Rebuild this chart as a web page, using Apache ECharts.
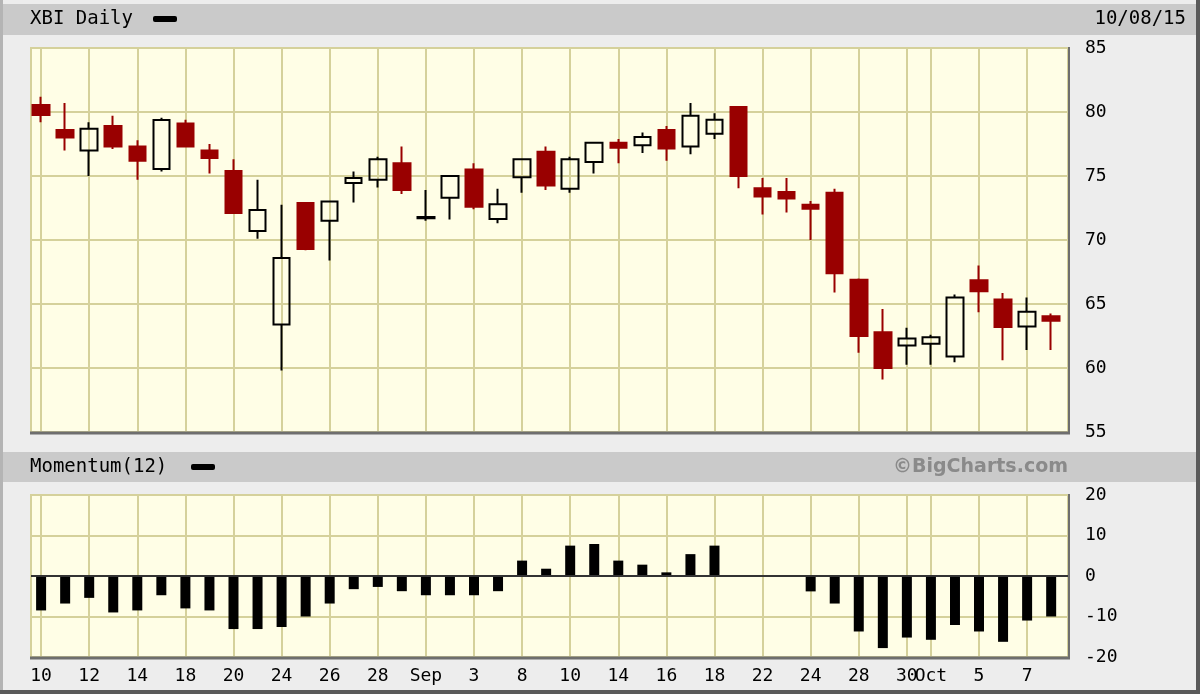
<!DOCTYPE html>
<html>
<head>
<meta charset="utf-8">
<script src="https://cdn.jsdelivr.net/npm/echarts@6/dist/echarts.min.js"></script>
<style>html,body{margin:0;padding:0;background:#ededed}#c{width:1200px;height:694px}</style>
</head>
<body>
<div id="c"></div>
<script>
// Trading days (XBI daily, Aug 10 – Oct 8, 2015)
var dates = ['2015-08-10','2015-08-11','2015-08-12','2015-08-13','2015-08-14','2015-08-17','2015-08-18','2015-08-19','2015-08-20','2015-08-21',
  '2015-08-24','2015-08-25','2015-08-26','2015-08-27','2015-08-28','2015-08-31','2015-09-01','2015-09-02','2015-09-03','2015-09-04',
  '2015-09-08','2015-09-09','2015-09-10','2015-09-11','2015-09-14','2015-09-15','2015-09-16','2015-09-17','2015-09-18','2015-09-21',
  '2015-09-22','2015-09-23','2015-09-24','2015-09-25','2015-09-28','2015-09-29','2015-09-30','2015-10-01','2015-10-02','2015-10-05',
  '2015-10-06','2015-10-07','2015-10-08'];
var openP  = [80.55,78.6,77.0,78.9,77.3,75.55,79.1,77.0,75.4,70.7, 63.4,72.9,71.5,74.45,74.7,76.0,71.7,73.3,75.5,71.65,
  74.9,76.9,74.0,76.1,77.6,77.4,78.6,77.3,78.3,80.4, 74.05,73.75,72.75,73.7,66.9,62.8,61.75,61.9,60.9,66.85, 65.35,63.25,64.05];
var closeP = [79.76,78.0,78.7,77.3,76.2,79.37,77.3,76.4,72.1,72.35, 68.6,69.3,73.0,74.85,76.3,73.9,71.8,75.0,72.6,72.8,
  76.3,74.25,76.3,77.6,77.2,78.05,77.15,79.7,79.4,75.0, 73.4,73.25,72.45,67.4,62.5,60.0,62.3,62.4,65.5,66.0, 63.2,64.4,63.7];
var lowP   = [79.2,77.0,75.0,77.1,74.7,75.36,77.3,75.2,72.1,70.1, 59.8,69.2,68.4,72.93,74.1,73.6,71.5,71.6,72.4,71.3,
  73.7,73.9,73.7,75.2,76.0,76.8,76.2,76.7,77.9,74.05, 72.0,72.15,70.0,65.9,61.2,59.1,60.25,60.25,60.45,64.35, 60.6,61.4,61.4];
var highP  = [81.2,80.7,79.2,79.7,77.8,79.55,79.4,77.5,76.3,74.7, 72.75,72.95,73.05,75.36,76.5,77.3,73.9,75.05,76.0,74.0,
  76.35,77.3,76.5,77.65,77.9,78.4,78.9,80.7,79.9,80.45, 74.85,74.85,73.05,74.0,67.0,64.6,63.15,62.6,65.75,68.0, 65.85,65.5,64.25];
var momentum = [-8.5,-6.8,-5.4,-9.0,-8.5,-4.75,-8.0,-8.5,-13.1,-13.1, -12.6,-10.0,-6.8,-3.25,-2.7,-3.75,-4.75,-4.75,-4.75,-3.75,
  3.8,1.8,7.5,7.9,3.8,2.8,0.9,5.4,7.5,0, 0,0,-3.8,-6.8,-13.7,-17.8,-15.2,-15.75,-12.1,-13.7, -16.25,-11.0,-10.0];
var tickIdx  = [0,2,4,6,8,10,12,14,16,18,20,22,24,26,28,30,32,34,36,37,39,41];
var tickText = ['10','12','14','18','20','24','26','28','Sep','3','8','10','14','16','18','22','24','28','30','Oct','5','7'];
var priceTicks = [55,60,65,70,75,80,85];
var momTicks = [-20,-10,0,10,20];

var candleData = dates.map(function(d,i){ return [i, openP[i], closeP[i], lowP[i], highP[i]]; });
var momData = dates.map(function(d,i){ return [i, momentum[i]]; });

var MONO = 'DejaVu Sans Mono';
var GRIDC = '#d5d19b';
var labelMap = {};
tickIdx.forEach(function(v,k){ labelMap[v] = tickText[k]; });

function xAxisCfg(idx, showLabel){
  return {
    type:'value', gridIndex: idx, min:-0.42, max:42.7,
    axisLine:{show:false},
    axisTick:{show:false, customValues: tickIdx},
    axisLabel:{show: showLabel, customValues: tickIdx, color:'#000', fontFamily: MONO, fontSize:18, margin:10,
      formatter:function(v){ return labelMap[Math.round(v)] || ''; }},
    splitLine:{show:true, lineStyle:{color:GRIDC, width:2}}
  };
}

var chart = echarts.init(document.getElementById('c'), null, {renderer:'canvas'});
chart.setOption({
  backgroundColor:'#ededed',
  animation:false,
  grid:[
    {left:31, right:132, top:48, height:384, show:true, backgroundColor:'#fffee6', borderColor:GRIDC, borderWidth:2},
    {left:31, right:132, top:495, height:162, show:true, backgroundColor:'#fffee6', borderColor:GRIDC, borderWidth:2}
  ],
  xAxis:[ xAxisCfg(0,false), xAxisCfg(1,true) ],
  yAxis:[
    {type:'value', gridIndex:0, position:'right', min:55, max:85, interval:5,
     axisLine:{show:false}, axisTick:{show:false},
     axisLabel:{color:'#000', fontFamily:MONO, fontSize:18, margin:17},
     splitLine:{lineStyle:{color:GRIDC, width:2}}},
    {type:'value', gridIndex:1, position:'right', min:-20, max:20, interval:10,
     axisLine:{show:false}, axisTick:{show:false},
     axisLabel:{color:'#000', fontFamily:MONO, fontSize:18, margin:17},
     splitLine:{lineStyle:{color:GRIDC, width:2}}}
  ],
  series:[
    {type:'candlestick', xAxisIndex:0, yAxisIndex:0, data:candleData,
     encode:{x:0, y:[1,2,3,4]}, barWidth:17,
     itemStyle:{color:'rgba(0,0,0,0)', color0:'#990000', borderColor:'#000', borderColor0:'#990000', borderWidth:2}},
    {type:'bar', xAxisIndex:1, yAxisIndex:1, data:momData, barWidth:10,
     itemStyle:{color:'#000'},
     markLine:{silent:true, symbol:'none', label:{show:false},
       lineStyle:{color:'#333', width:2, type:'solid'}, data:[{yAxis:0}]}}
  ],
  graphic:[
    {type:'rect', shape:{x:3, y:4, width:1193, height:31}, style:{fill:'#cacaca'}, z:0},
    {type:'rect', shape:{x:3, y:452, width:1193, height:30}, style:{fill:'#cacaca'}, z:0},
    {type:'rect', shape:{x:0, y:0, width:3, height:694}, style:{fill:'#b4b4b4'}, z:0},
    {type:'rect', shape:{x:1196, y:0, width:4, height:694}, style:{fill:'#5a5a5a'}, z:0},
    {type:'rect', shape:{x:0, y:690, width:1200, height:4}, style:{fill:'#5a5a5a'}, z:0},
    {type:'text', x:30, y:19, style:{text:'XBI Daily', font:'19px "DejaVu Sans Mono"', fill:'#000', verticalAlign:'middle'}, z:5},
    {type:'rect', shape:{x:153, y:16, width:24, height:6, r:2}, style:{fill:'#000'}, z:5},
    {type:'text', x:1186, y:19, style:{text:'10/08/15', font:'19px "DejaVu Sans Mono"', fill:'#000', align:'right', verticalAlign:'middle'}, z:5},
    {type:'text', x:30, y:467, style:{text:'Momentum(12)', font:'19px "DejaVu Sans Mono"', fill:'#000', verticalAlign:'middle'}, z:5},
    {type:'rect', shape:{x:191, y:464, width:24, height:6, r:2}, style:{fill:'#000'}, z:5},
    {type:'text', x:1068, y:467, style:{text:'\u00a9BigCharts.com', font:'bold 19px "DejaVu Sans"', fill:'#8a8a8a', align:'right', verticalAlign:'middle'}, z:5},
    {type:'line', shape:{x1:30, y1:433, x2:1070, y2:433}, style:{stroke:'#6e6e6e', lineWidth:3}, z:100},
    {type:'line', shape:{x1:1069, y1:47, x2:1069, y2:434}, style:{stroke:'#6e6e6e', lineWidth:2}, z:100},
    {type:'line', shape:{x1:30, y1:658, x2:1070, y2:658}, style:{stroke:'#6e6e6e', lineWidth:3}, z:100},
    {type:'line', shape:{x1:1069, y1:494, x2:1069, y2:659}, style:{stroke:'#6e6e6e', lineWidth:2}, z:100}
  ]
});
</script>
</body>
</html>
